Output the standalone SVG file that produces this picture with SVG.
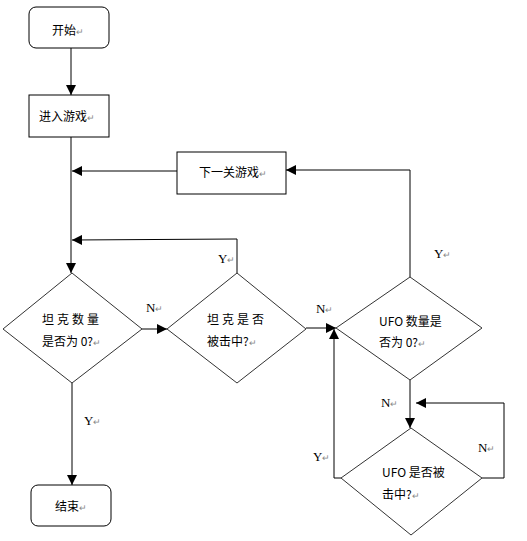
<svg xmlns="http://www.w3.org/2000/svg" width="527" height="541" viewBox="0 0 527 541">
<style>
.shape{fill:#fff;stroke:#000;stroke-width:1}
.diamond{fill:#fff;stroke:#333;stroke-width:1}
.cn{font-family:"Noto Sans CJK SC","Noto Sans CJK JP",sans-serif;font-size:12px;fill:#000}
.lat{font-family:"Liberation Serif",serif;font-size:13px;fill:#000}
.rm{fill:#888;font-size:9px}
.line{fill:none;stroke:#000;stroke-width:1}
</style>
<defs>
<marker id="arr" markerUnits="userSpaceOnUse" markerWidth="10" markerHeight="10" viewBox="0 0 10 10" refX="10" refY="5" orient="auto">
<path d="M0,0 L10,5 L0,10 z" fill="#000"/>
</marker>
</defs>
<rect width="527" height="541" fill="#fff"/>
<g id="connectors">
<path class="line" d="M71,48 L71,95" marker-end="url(#arr)"/>
<path class="line" d="M71,137 L71,273" marker-end="url(#arr)"/>
<path class="line" d="M177,171 L72,171" marker-end="url(#arr)"/>
<path class="line" d="M410,277 L410,170 L286,170" marker-end="url(#arr)"/>
<path class="line" d="M237,273 L237,239 L72,240" marker-end="url(#arr)"/>
<path class="line" d="M142,329 L167,329" marker-end="url(#arr)"/>
<path class="line" d="M72,383 L72,485" marker-end="url(#arr)"/>
<path class="line" d="M306,328 L336,328" marker-end="url(#arr)"/>
<path class="line" d="M410,380 L410,428" marker-end="url(#arr)"/>
<path class="line" d="M482,478 L504,478 L504,403 L416,403" marker-end="url(#arr)"/>
<path class="line" d="M341,478 L334,478 L334,329" marker-end="url(#arr)"/>
<text class="lat" x="146" y="312">N<tspan class="rm">↵</tspan></text>
<text class="lat" x="316" y="313">N<tspan class="rm">↵</tspan></text>
<text class="lat" x="218" y="263">Y<tspan class="rm">↵</tspan></text>
<text class="lat" x="434" y="258">Y<tspan class="rm">↵</tspan></text>
<text class="lat" x="84" y="425">Y<tspan class="rm">↵</tspan></text>
<text class="lat" x="381" y="407">N<tspan class="rm">↵</tspan></text>
<text class="lat" x="478" y="452">N<tspan class="rm">↵</tspan></text>
<text class="lat" x="313" y="461">Y<tspan class="rm">↵</tspan></text>
</g>
<g id="start">
<rect class="shape" x="29" y="7" width="80" height="41" rx="7"/>
<text class="cn" x="52" y="35">开始<tspan class="rm">↵</tspan></text>
</g>
<g id="enter">
<rect class="shape" x="29" y="95" width="80" height="42"/>
<text class="cn" x="39" y="121">进入游戏<tspan class="rm">↵</tspan></text>
</g>
<g id="next">
<rect class="shape" x="177" y="152" width="109" height="42"/>
<text class="cn" x="199" y="177">下一关游戏<tspan class="rm">↵</tspan></text>
</g>
<g id="tankcount">
<polygon class="diamond" points="72,273 142,329 72,383 3,329"/>
<text class="cn" x="42" y="324" letter-spacing="3">坦克数量</text>
<text class="cn" x="42" y="346">是否为 0?<tspan class="rm">↵</tspan></text>
</g>
<g id="tankhit">
<polygon class="diamond" points="237,273 306,329 237,383 167,329"/>
<text class="cn" x="207" y="324" letter-spacing="3">坦克是否</text>
<text class="cn" x="207" y="346">被击中?<tspan class="rm">↵</tspan></text>
</g>
<g id="ufocount">
<polygon class="diamond" points="410,277 482,328 410,380 336,328"/>
<text class="cn" x="379" y="326">UFO 数量是</text>
<text class="cn" x="379" y="347">否为 0?<tspan class="rm">↵</tspan></text>
</g>
<g id="ufohit">
<polygon class="diamond" points="411,428 482,478 411,535 341,478"/>
<text class="cn" x="382" y="477">UFO 是否被</text>
<text class="cn" x="382" y="499">击中?<tspan class="rm">↵</tspan></text>
</g>
<g id="end">
<rect class="shape" x="31" y="485" width="80" height="41" rx="7"/>
<text class="cn" x="55" y="511">结束<tspan class="rm">↵</tspan></text>
</g>
</svg>
